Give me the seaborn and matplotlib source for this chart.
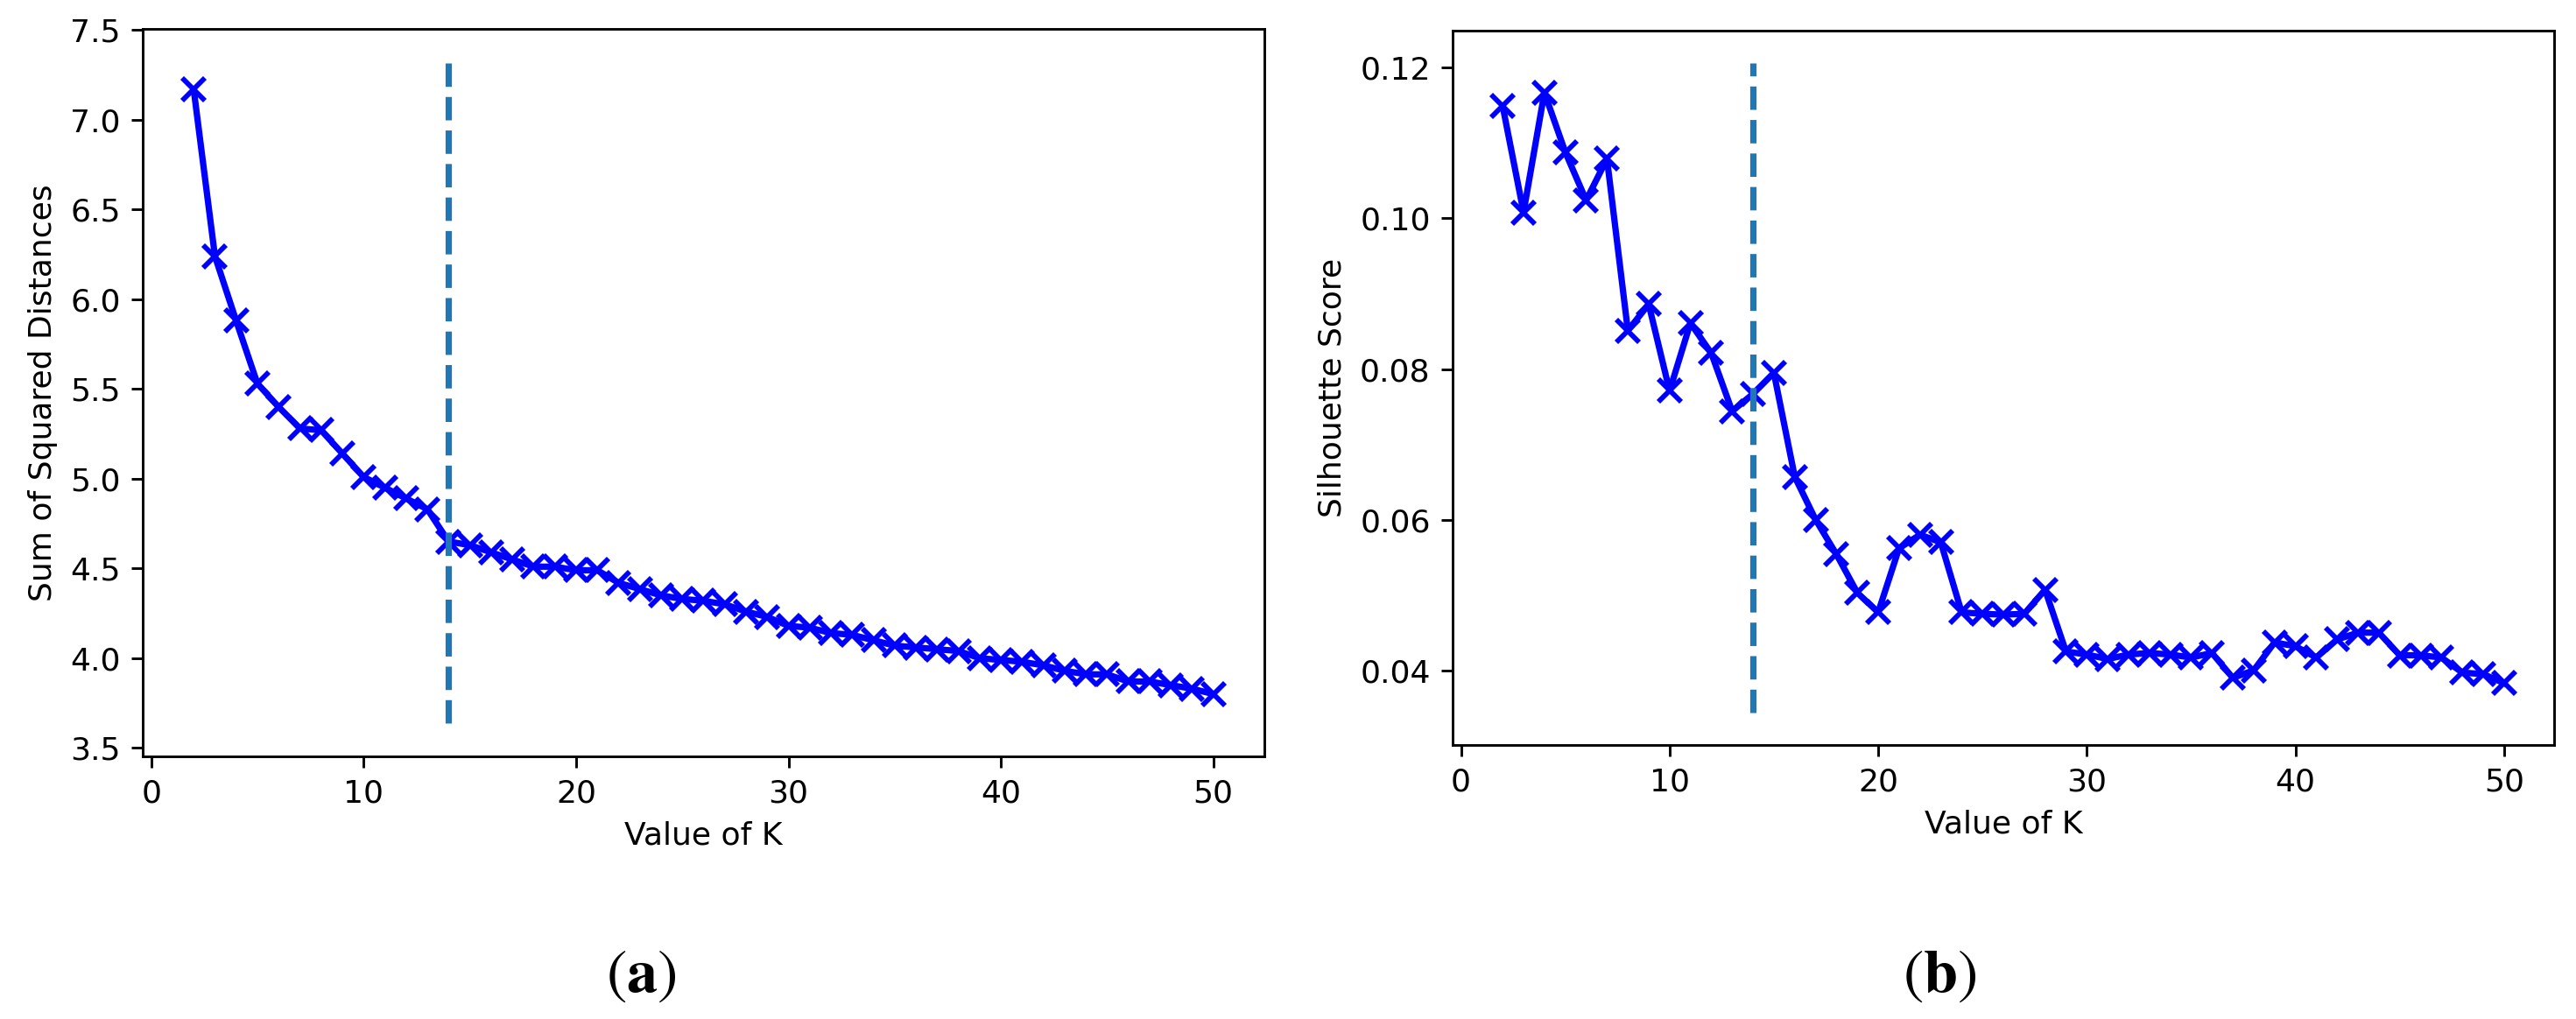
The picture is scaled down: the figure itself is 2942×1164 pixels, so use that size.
import numpy as np
import pandas as pd
import seaborn as sns
import matplotlib.pyplot as plt

# --- data ---
k_values = list(range(2, 51))

sse = [7.17, 6.24, 5.88, 5.53, 5.40, 5.28, 5.27, 5.14, 5.01, 4.95,
       4.89, 4.83, 4.65, 4.63, 4.59, 4.55, 4.51, 4.51, 4.49, 4.49,
       4.42, 4.385, 4.35, 4.33, 4.32, 4.30, 4.26, 4.23, 4.18, 4.17,
       4.14, 4.13, 4.10, 4.07, 4.06, 4.05, 4.04, 4.00, 3.99, 3.98,
       3.96, 3.93, 3.91, 3.91, 3.87, 3.87, 3.85, 3.83, 3.80]

silhouette = [0.1149, 0.1008, 0.1167, 0.1088, 0.1024, 0.1079, 0.0851, 0.0886,
              0.0771, 0.0861, 0.0821, 0.0744, 0.0767, 0.0795, 0.0657, 0.0600,
              0.0554, 0.0503, 0.0477, 0.0562, 0.0580, 0.0570, 0.0477, 0.0475,
              0.0474, 0.0475, 0.0507, 0.0425, 0.0421, 0.0415, 0.0421, 0.0423,
              0.0421, 0.0417, 0.0423, 0.0390, 0.0400, 0.0437, 0.0432, 0.0417,
              0.0441, 0.0450, 0.0450, 0.0420, 0.0420, 0.0417, 0.0397, 0.0395,
              0.0383]

elbow_k = 14
sse_vline = (3.637, 7.322)
sil_vline = (0.0344, 0.1206)

panel_labels = ["a", "b"]

df = pd.DataFrame({"k": k_values, "sse": sse, "silhouette": silhouette})

# --- figure ---
plt.rcParams["mathtext.fontset"] = "stix"
fig = plt.figure(figsize=(2942 / 260, 1164 / 260), dpi=260)
ax1 = fig.add_axes([0.0554, 0.2577, 0.4354, 0.7139])
ax2 = fig.add_axes([0.5639, 0.2689, 0.4276, 0.7010])

line_kws = dict(color="blue", marker="x", markersize=7, linewidth=2,
                markeredgewidth=1.6, markeredgecolor="blue", errorbar=None)

sns.lineplot(data=df, x="k", y="sse", ax=ax1, **line_kws)
ax1.vlines(elbow_k, *sse_vline, colors="C0", linestyles="dashed", linewidth=2)
ax1.set_xlabel("Value of K")
ax1.set_ylabel("Sum of Squared Distances")

sns.lineplot(data=df, x="k", y="silhouette", ax=ax2, **line_kws)
ax2.vlines(elbow_k, *sil_vline, colors="C0", linestyles="dashed", linewidth=2)
ax2.set_xlabel("Value of K")
ax2.set_ylabel("Silhouette Score")

for xpos, lab in zip([0.249, 0.753], panel_labels):
    fig.text(xpos, 0.041, r"($\mathbf{" + lab + r"}$)", fontsize=19.5,
             family="STIXGeneral", ha="center", va="center")

fig.savefig("out.png", dpi=260)
